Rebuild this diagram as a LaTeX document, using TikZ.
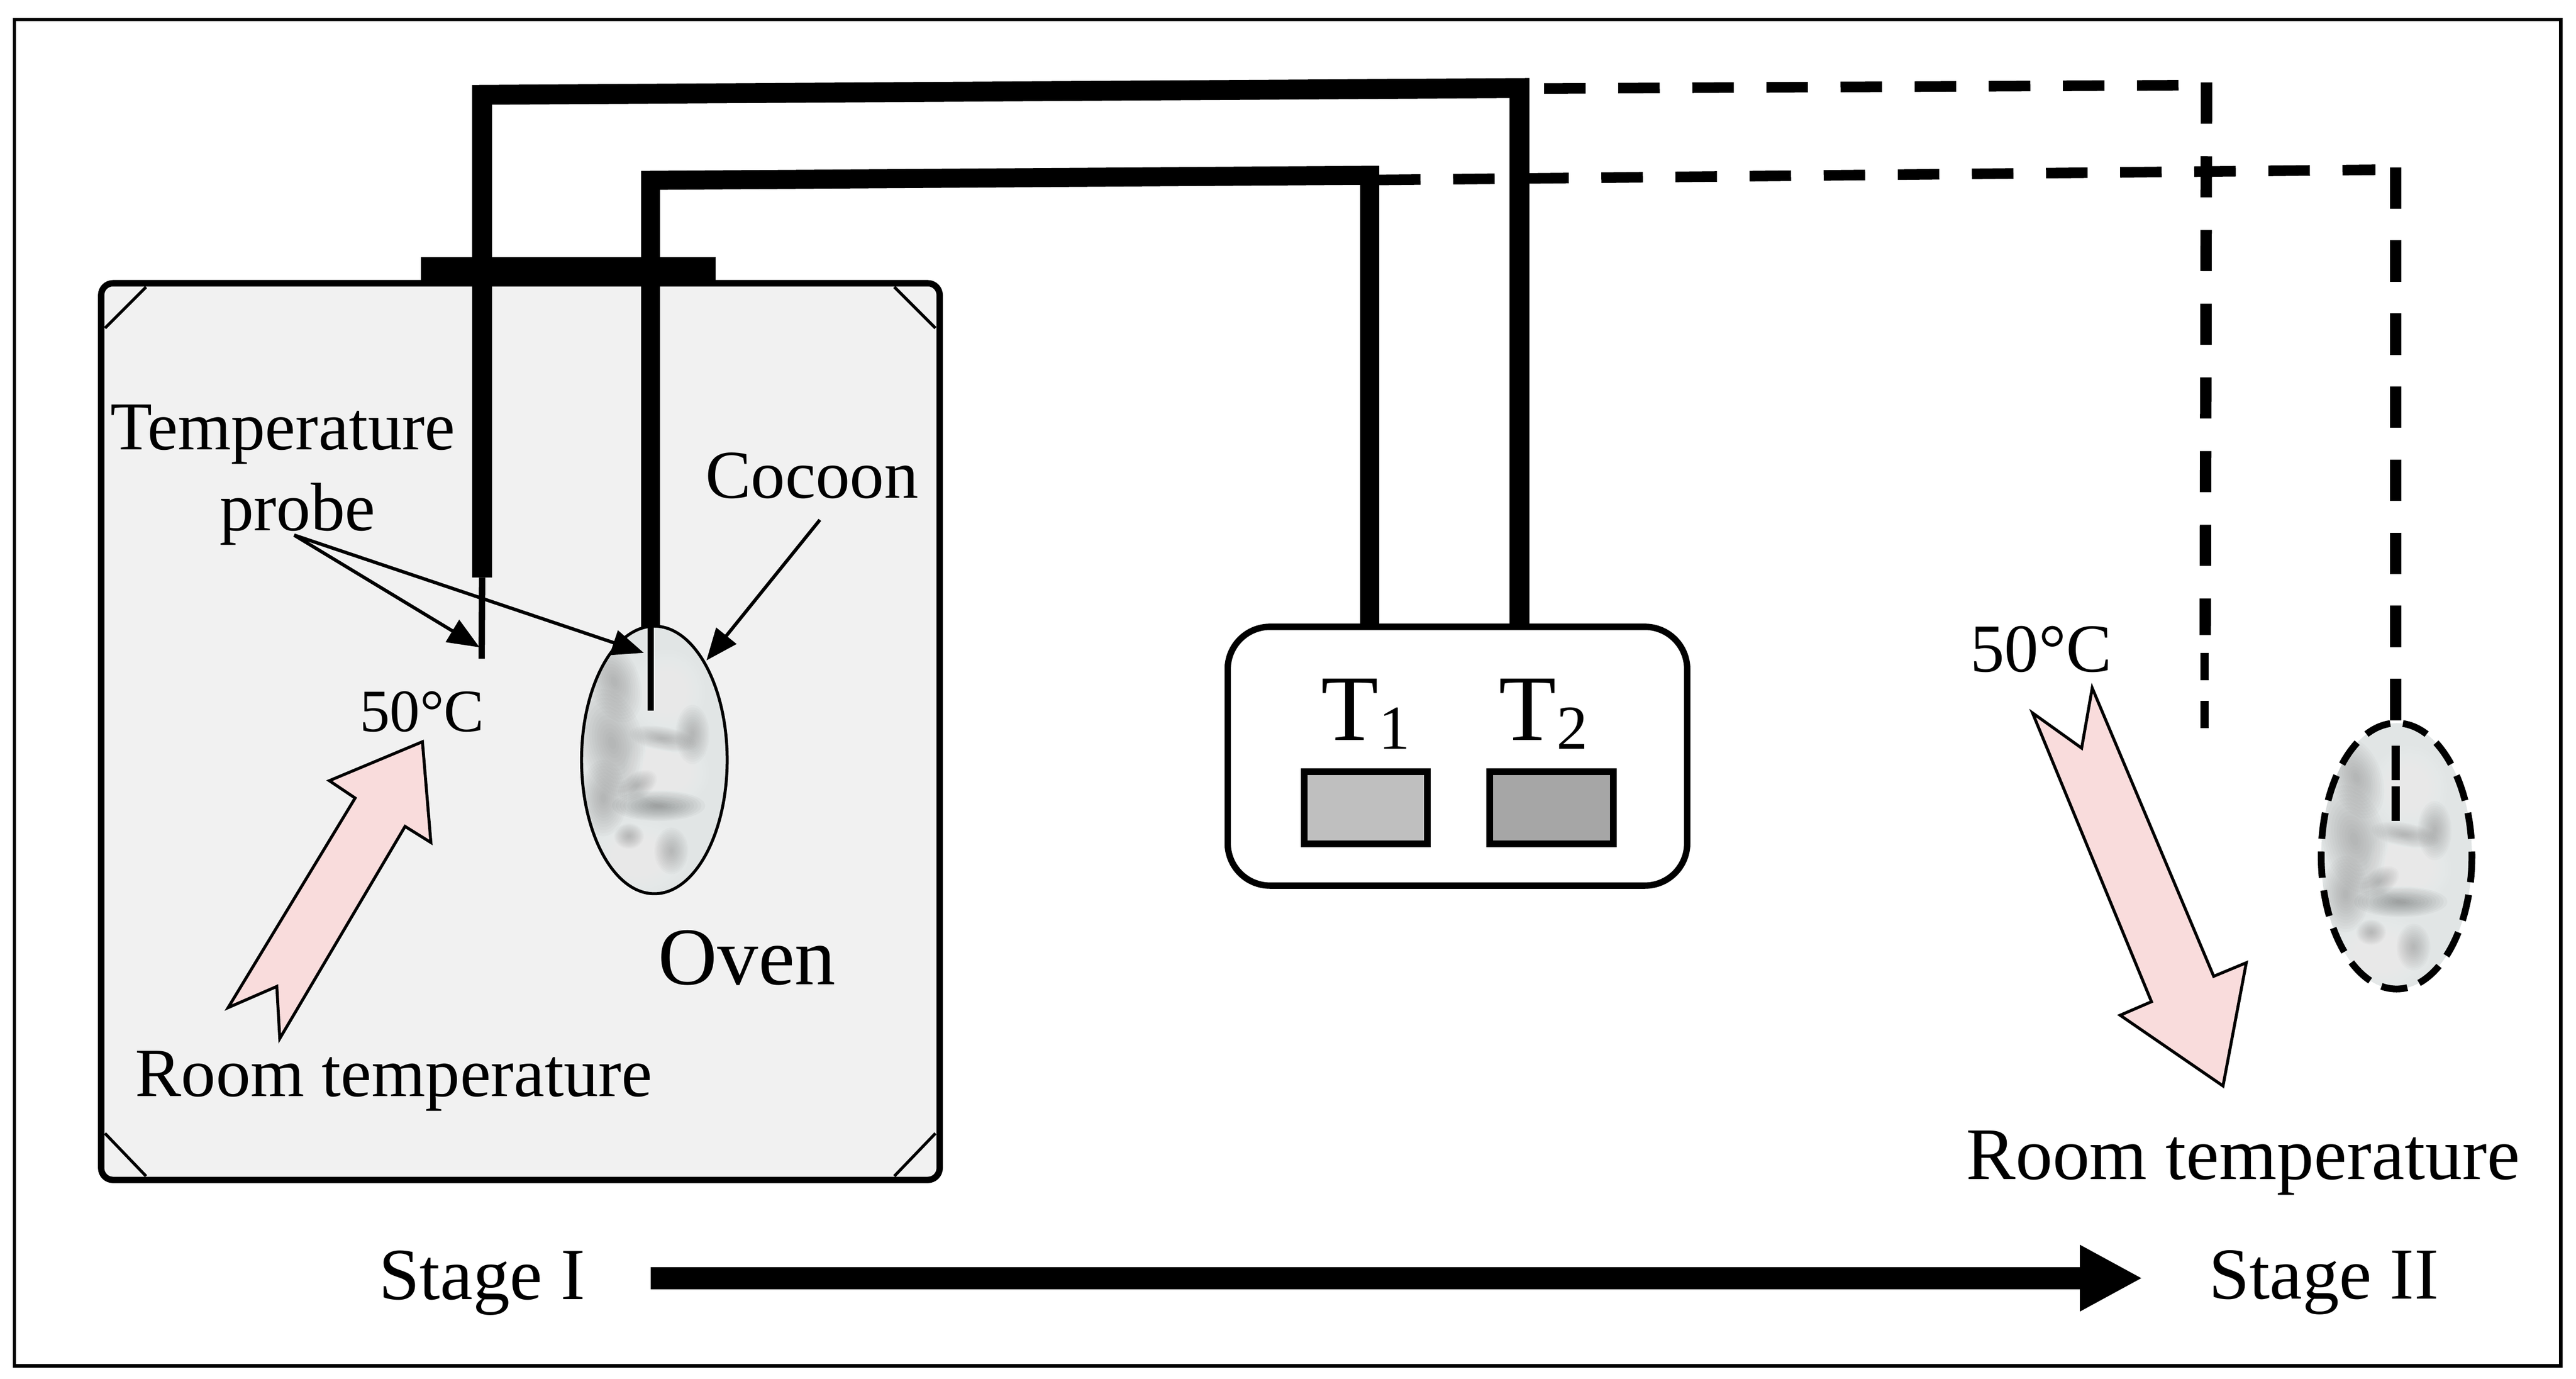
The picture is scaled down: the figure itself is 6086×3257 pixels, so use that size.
\documentclass[tikz,border=0pt]{standalone}
\usepackage{fontspec}
\setmainfont{Liberation Serif}
\usetikzlibrary{arrows.meta}
\definecolor{ovenfill}{HTML}{F1F1F1}
\definecolor{heat}{HTML}{F9DCDC}
\definecolor{cocoonbase}{HTML}{E1E5E5}
\newcommand{\fs}[1]{\fontsize{#1}{#1}\selectfont}
\newcommand{\blobbed}[6]{%
  \foreach \k in {1,0.92,0.84,0.76,0.68,0.6,0.52,0.44,0.36,0.28,0.2,0.12}{
    \fill[#6,opacity=0.045,rotate around={#5:(#1,#2)}] (#1,#2) ellipse [x radius=\k*#3,y radius=\k*#4];
  }}
\newcommand{\cocoontexture}{%
  \fill[cocoonbase] (-200,-340) rectangle (200,340);
  \blobbed{-95}{-185}{60}{100}{20}{gray}
  \blobbed{-100}{-40}{75}{130}{15}{gray}
  \blobbed{-120}{90}{55}{90}{0}{gray}
  \blobbed{10}{108}{110}{36}{0}{black!70}
  \blobbed{20}{-50}{80}{28}{-10}{gray}
  \blobbed{40}{30}{90}{80}{0}{white}
  \blobbed{-40}{230}{120}{90}{0}{white}
  \blobbed{30}{-160}{90}{100}{0}{white}
  \blobbed{-10}{20}{60}{70}{0}{white}
  \blobbed{40}{215}{40}{55}{0}{gray}
  \blobbed{-40}{60}{50}{30}{30}{gray}
  \blobbed{90}{-60}{40}{70}{0}{gray}
  \blobbed{-60}{180}{35}{30}{0}{gray}
}
\tikzset{
  frame/.style={draw=black,line width=0.08cm,fill=white},
  wire/.style={line width=0.47cm,draw=black},
  dashwire/.style={line width=0.25cm,draw=black,dash pattern=on 0.98cm off 0.77cm},
  probeline/.style={line width=0.15cm,draw=black},
  pointer/.style={line width=0.08cm,draw=black,-{Triangle[length=0.75cm,width=0.6cm]}},
  heatarrow/.style={draw=black,fill=heat,line width=0.07cm,line join=miter},
  txt/.style={inner sep=0pt,outer sep=0pt,anchor=base,text=black},
  display/.style={draw=black,line width=0.16cm,anchor=north west,inner sep=0pt},
}
\begin{document}
\begin{tikzpicture}[x=0.01cm,y=-0.01cm]
\useasboundingbox (0,0) rectangle (6086,3257);
\fill[white] (0,0) rectangle (6086,3257);
\draw[frame] (34,46) rectangle (6050,3226);

% oven
\draw[draw=black,fill=ovenfill,line width=0.15cm,rounded corners=0.28cm] (239,669) rectangle (2220,2787);
\foreach \a/\b/\c/\d in {248/775/345/678, 2113/678/2210/775, 248/2677/345/2778, 2113/2778/2210/2677}
  \draw[line width=0.07cm] (\a,\b) -- (\c,\d);

% left cocoon
\begin{scope}
  \clip (1546,1795) ellipse [x radius=172,y radius=316];
  \begin{scope}[shift={(1546,1795)}]\cocoontexture\end{scope}
\end{scope}
\draw[line width=0.07cm] (1546,1795) ellipse [x radius=172,y radius=316];

% device
\node[draw=black,fill=white,line width=0.15cm,rounded corners=1cm,minimum width=10.85cm,minimum height=6.11cm,anchor=north west,inner sep=0pt] (device) at (2893,1473) {};
\node[display,fill=black!25,minimum width=2.91cm,minimum height=1.70cm] (disp1) at (3073,1815) {};
\node[display,fill=black!35,minimum width=2.91cm,minimum height=1.70cm] (disp2) at (3512,1815) {};
\node[txt,anchor=base west] (t1) at (3122,1748) {\fs{63}T\raisebox{-6pt}{\fs{42}1}};
\node[txt,anchor=base west] (t2) at (3542,1748) {\fs{63}T\raisebox{-6pt}{\fs{42}2}};

% wire end points
\coordinate (outerEnd) at (1139,1364);
\coordinate (innerEnd) at (1537,1480);
\coordinate (outerCorner) at (1139,224);
\coordinate (innerCorner) at (1537,426);
\coordinate (t2Corner) at (3590,208);
\coordinate (t1Corner) at (3236,414);
\coordinate (t2Foot) at (3590,1481);
\coordinate (t1Foot) at (3236,1481);
\coordinate (probeA) at (1138,1556);
\coordinate (probeB) at (1537,1679);

% dashed second-stage wires
\coordinate (dA0) at (3648,209);
\coordinate (dA1) at (5213,201);
\coordinate (dA2) at (5213,195);
\coordinate (dA3) at (5210,1500);
\coordinate (dA4) at (5208,1542);
\coordinate (dA5) at (5208,1720);
\coordinate (dB0) at (3258,425);
\coordinate (dB1) at (5612,401);
\coordinate (dB2) at (5660,395);
\coordinate (dB3) at (5660,1706);
\coordinate (dB4) at (5660,1761);
\coordinate (dB5) at (5660,1939);
\draw[dashwire] (dA0) -- (dA1);
\draw[dashwire,line width=0.27cm,dash pattern=on 0.97cm off 0.77cm] (dA2) -- (dA3);
\draw[dashwire,line width=0.19cm,dash pattern=on 0.65cm off 0.48cm] (dA4) -- (dA5);
\draw[dashwire] (dB0) -- (dB1);
\draw[dashwire,line width=0.27cm,dash pattern=on 0.98cm off 0.745cm] (dB2) -- (dB3);

% right cocoon
\begin{scope}
  \clip (5662,2022) ellipse [x radius=178,y radius=314];
  \begin{scope}[shift={(5662,2022)}]\cocoontexture\end{scope}
\end{scope}
\draw[line width=0.16cm,dash pattern=on 0.62cm off 0.3cm] (5662,2022) ellipse [x radius=178,y radius=314];
\draw[line width=0.2cm,dash pattern=on 0.82cm off 0.14cm] (dB4) -- (dB5);

% solid wires
\draw[wire] (outerEnd) -- (outerCorner) -- (t2Corner) -- (t2Foot);
\draw[wire,line width=0.45cm] (innerEnd) -- (innerCorner) -- (t1Corner) -- (t1Foot);
\fill[black] (995,607) rectangle (1691,669);
\draw[probeline] (outerEnd) -- (probeA);
\draw[probeline] (innerEnd) -- (probeB);

% heat arrows
\draw[heatarrow] (998,1752) -- (1018,1990) -- (957,1952) -- (661,2453) -- (654,2330) -- (539,2380) -- (839,1885) -- (778,1844) -- cycle;
\draw[heatarrow] (4943,1625) -- (4918,1767) -- (4802,1684) -- (5083,2366) -- (5009,2398) -- (5252,2565) -- (5307,2274) -- (5230,2306) -- cycle;

% pointers
\coordinate (probeFork) at (695,1264);
\coordinate (tipA) at (1133,1529);
\coordinate (tipB) at (1521,1542);
\coordinate (cocoonStart) at (1937,1228);
\coordinate (tipC) at (1669,1560);
\draw[pointer] (probeFork) -- (tipA);
\draw[pointer] (probeFork) -- (tipB);
\draw[pointer] (cocoonStart) -- (tipC);

% stage arrow
\coordinate (stageA) at (1537,3019);
\coordinate (stageB) at (5062,3019);
\draw[line width=0.52cm,-{Triangle[length=1.48cm,width=1.46cm]}] (stageA) -- (stageB);

% labels
\node[txt,align=center,font=\fs{46}] (probe) at (668,1253) {Temperature\\[8.4pt]\hspace*{0.7cm}probe};
\node[txt] (cocoon) at (1918,1177) {\fs{46}Cocoon};
\node[txt] (fifty) at (997,1728) {\fs{40.5}50°C};
\node[txt] (oven) at (1765,2326) {\fs{55}Oven};
\node[txt] (roomA) at (930,2590) {\fs{46.5}Room temperature};
\node[txt] (stage1) at (1139,3069) {\fs{49.4}Stage I};
\node[txt] (stage2) at (5490,3068) {\fs{49.2}Stage II};
\node[txt] (roomB) at (5299,2786) {\fs{49.8}Room temperature};
\node[txt] (fiftyB) at (4822,1586) {\fs{46}50°C};
\end{tikzpicture}
\end{document}
